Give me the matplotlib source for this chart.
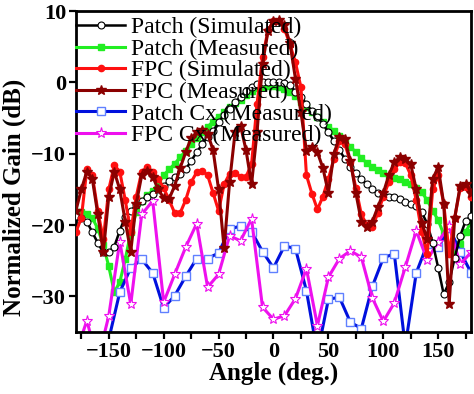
import numpy as np
import matplotlib
matplotlib.use("Agg")
import matplotlib.pyplot as plt
from matplotlib.ticker import MultipleLocator

plt.rcParams['font.family'] = ['Liberation Serif', 'DejaVu Serif']

angles = np.arange(-180, 181, 5)
angles_cx = np.arange(-180, 181, 10)

patch_sim = [-18.7, -19.0, -19.5, -21.0, -22.5, -23.8, -23.8, -23.0, -20.8, -18.8,
             -18.0, -17.2, -16.6, -16.1, -15.7, -15.0, -14.5, -13.8, -13.3, -12.8,
             -12.2, -11.0, -9.8, -8.7, -7.6, -6.8, -5.6, -4.5, -3.7, -2.8,
             -2.0, -1.2, -0.6, -0.2, 0.0, 0.0, 0.0, 0.0, -0.1, -0.4,
             -1.3, -2.1, -3.0, -4.0, -4.9, -5.8, -7.0, -8.2, -9.5, -10.7,
             -11.8, -12.7, -13.6, -14.3, -15.0, -15.5, -15.9, -16.0, -16.1, -16.3,
             -16.7, -17.0, -17.3, -18.2, -19.8, -22.5, -26.0, -29.7, -28.0, -24.6,
             -21.5, -19.4, -18.7]
patch_meas = [-18.2, -18.2, -18.4, -19.0, -20.5, -22.8, -25.8, -29.4, -28.0, -24.8,
              -21.0, -18.2, -16.6, -15.8, -15.2, -14.2, -13.0, -12.2, -11.4, -10.5,
              -9.6, -8.7, -7.8, -7.0, -6.2, -5.5, -4.8, -4.2, -3.5, -2.9,
              -2.4, -1.7, -1.2, -0.8, -0.6, -0.5, -0.5, -0.6, -0.9, -1.3,
              -1.9, -2.7, -3.4, -4.1, -4.8, -5.5, -6.2, -6.8, -7.5, -8.3,
              -9.0, -9.8, -10.6, -11.3, -11.8, -12.3, -12.7, -13.1, -13.4, -13.6,
              -13.9, -14.3, -14.8, -15.4, -16.5, -18.0, -19.3, -21.3, -23.4, -23.8,
              -22.6, -21.0, -19.5]
fpc_sim = [-21.0, -19.0, -12.2, -13.0, -18.0, -22.0, -15.0, -11.6, -12.5, -16.5,
           -21.0, -16.0, -12.5, -11.9, -12.5, -13.5, -14.8, -16.5, -18.3, -18.3,
           -16.5, -14.0, -12.6, -12.4, -13.0, -15.5, -18.0, -14.3, -12.8, -12.7,
           -13.2, -13.2, -11.5, -3.0, 3.5, 7.3, 8.6, 8.6, 7.5, 5.3,
           2.8, -0.7, -13.0, -15.6, -17.8, -16.0, -13.5, -10.8, -8.2, -8.6,
           -11.2, -14.8, -18.5, -20.0, -20.3, -18.3, -16.0, -14.0, -12.2, -11.2,
           -11.3, -13.0, -16.5, -21.0, -24.0, -15.0, -13.0, -17.0, -24.0, -19.0,
           -14.8, -14.6, -16.0]
fpc_meas = [-18.0, -15.0, -12.5, -13.5, -18.5, -23.8, -16.0, -12.5, -15.0, -19.5,
            -23.7, -17.0, -13.0, -12.4, -13.2, -15.0, -16.2, -16.3, -14.5, -12.0,
            -9.8, -7.8, -7.0, -6.7, -7.2, -9.5, -15.0, -23.2, -14.0, -7.0,
            -6.1, -9.5, -14.3, -7.0, 2.6, 7.2, 8.6, 8.7, 8.0, 5.5,
            0.5, -4.2, -9.6, -9.0, -9.8, -12.0, -15.5, -10.0, -7.7, -8.0,
            -11.0, -15.5, -19.5, -20.3, -19.5, -17.5, -15.5, -13.0, -11.2, -10.5,
            -10.7, -11.5, -15.0, -19.7, -22.0, -13.5, -11.9, -17.0, -31.0, -19.0,
            -14.5, -14.2, -15.5]
patch_cx = [-38.0, -36.5, -40.0, -36.0, -29.4, -26.0, -24.8, -26.7, -31.6, -29.9,
            -27.2, -24.7, -24.7, -23.9, -20.6, -20.1, -20.9, -23.7, -26.0, -22.9,
            -23.3, -29.2, -38.0, -30.4, -30.1, -33.6, -34.5, -28.6, -24.6, -24.0,
            -37.0, -26.7, -22.7, -23.1, -20.4, -23.7, -26.7]
fpc_cx = [-38.0, -33.4, -39.0, -32.7, -22.3, -31.1, -18.5, -16.6, -30.8, -26.9,
          -23.1, -19.8, -28.7, -26.9, -21.5, -22.2, -19.1, -31.5, -33.2, -32.7,
          -30.3, -26.1, -34.1, -27.3, -24.7, -23.6, -24.5, -30.2, -33.5, -30.9,
          -25.9, -20.8, -24.9, -22.3, -20.1, -25.5, -23.8]

fig = plt.figure(figsize=(4.74, 3.94), dpi=100)
ax = fig.add_axes([0.160, 0.157, 0.834, 0.815])

lw = 2.2
ax.plot(angles, patch_meas, color="#22ee22", lw=lw, marker="s", ms=4.5,
        mfc="#22ee22", mec="#22ee22", label="Patch (Measured)", zorder=2)
ax.plot(angles, patch_sim, color="black", lw=1.8, marker="o", ms=5,
        mfc="white", mec="black", mew=0.8, label="Patch (Simulated)", zorder=3)
ax.plot(angles, fpc_sim, color="#ff1010", lw=lw, marker="o", ms=4.5,
        mfc="#ff1010", mec="#ff1010", label="FPC (Simulated)", zorder=4)
ax.plot(angles, fpc_meas, color="#8b0000", lw=lw, marker="*", ms=7,
        mfc="#8b0000", mec="#8b0000", label="FPC (Measured)", zorder=5)
ax.plot(angles_cx, patch_cx, color="#0010dd", lw=lw, marker="s", ms=5.5,
        mfc="white", mec="#6080ff", mew=1.0, label="Patch Cx (Measured)", zorder=2)
ax.plot(angles_cx, fpc_cx, color="#ee10ee", lw=lw, marker="*", ms=8,
        mfc="white", mec="#ee10ee", mew=0.8, label="FPC Cx (Measured)", zorder=2)

ax.set_xlim(-180, 180)
ax.set_ylim(-35, 10)
ax.xaxis.set_major_locator(MultipleLocator(50))
ax.xaxis.set_minor_locator(MultipleLocator(25))
ax.yaxis.set_major_locator(MultipleLocator(10))
ax.tick_params(axis="both", which="both", direction="out", width=1.6, top=False, right=False)
ax.tick_params(axis="both", which="major", length=5, labelsize=16, pad=2)
ax.tick_params(axis="x", which="minor", length=5)
for lab in ax.get_xticklabels() + ax.get_yticklabels():
    lab.set_fontweight("bold")
for sp in ax.spines.values():
    sp.set_linewidth(2.0)

ax.set_xlabel("Angle (deg.)", fontsize=18, fontweight="bold", labelpad=0)
ax.set_ylabel("Normalized Gain (dB)", fontsize=18, fontweight="bold")
ax.yaxis.set_label_coords(-0.125, 0.42)

handles, labels = ax.get_legend_handles_labels()
order = [1, 0, 2, 3, 4, 5]
ax.legend([handles[i] for i in order], [labels[i] for i in order],
          loc="upper left", bbox_to_anchor=(-0.015, 1.0), frameon=False,
          fontsize=17, handlelength=2.1, handletextpad=0.25, labelspacing=0.0,
          borderaxespad=0.1, borderpad=0.15)

fig.savefig("out.png", dpi=100)
